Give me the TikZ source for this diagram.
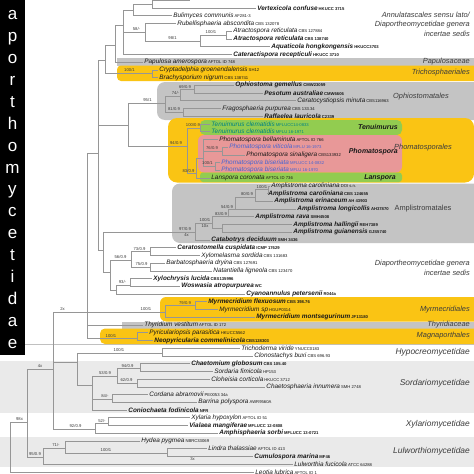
\documentclass[tikz,border=0pt]{standalone}
\usepackage{fontspec}
\setmainfont{Liberation Sans}
\definecolor{lineclr}{RGB}{150,150,150}
\definecolor{boxgrey}{RGB}{196,196,196}
\definecolor{bandgrey}{RGB}{234,234,234}
\definecolor{yel}{RGB}{250,196,20}
\definecolor{grn}{RGB}{146,204,80}
\definecolor{pnk}{RGB}{232,152,152}
\definecolor{tealtx}{RGB}{0,130,130}
\definecolor{blutx}{RGB}{70,100,210}
\definecolor{txt}{RGB}{25,25,25}
\definecolor{labtxt}{RGB}{60,60,60}
\newcommand{\tx}[2]{\textit{#1}\,{\fontsize{4.2}{5}\selectfont #2}}
\newcommand{\txb}[2]{\textbf{\textit{#1}}\,{\fontsize{4.2}{5}\selectfont\bfseries #2}}
\begin{document}
\begin{tikzpicture}[x=1pt,y=-1pt,
  leaf/.style={anchor=west, inner xsep=1.2pt, inner ysep=0pt, font=\fontsize{6.4}{7}\selectfont, text=txt},
  br/.style={draw=lineclr, line width=0.55pt},
  supp/.style={font=\fontsize{4.2}{4.5}\selectfont, text=labtxt, inner sep=0pt},
  olab/.style={font=\fontsize{7.4}{8}\selectfont\itshape, text=labtxt, anchor=east, inner sep=0pt},
  slab/.style={font=\fontsize{8.4}{9}\selectfont\itshape, text=labtxt, anchor=east, inner sep=0pt},
  glab/.style={font=\fontsize{7}{8}\selectfont\bfseries\itshape, text=txt, anchor=east, inner sep=0pt},
  blet/.style={text=white, font=\fontsize{17}{17}\selectfont, anchor=base, inner sep=0pt}]
\useasboundingbox (0,0) rectangle (474,474);
\clip (0,0) rectangle (474,474);
\fill[white] (0,0) rectangle (474,474);
% subclass bands
\fill[bandgrey] (0,361) rectangle (474,413);
\fill[bandgrey] (0,437) rectangle (474,467);
\draw[lineclr!60, line width=0.3pt] (25,344.3) -- (474,344.3);
% black bar
\fill[black] (0,0) rectangle (25,355);
\foreach \l [count=\k from 0] in {a,p,o,r,t,h,o,m,y,c,e,t,i,d,a,e}
  \node[blet] (bl\k) at (12.5,{19.5+21.93*\k}) {\l};
% clade boxes
\fill[boxgrey] (117,57.5) rectangle (474,65.5);
\fill[yel, rounded corners=4pt] (117,65.5) rectangle (480,81);
\fill[boxgrey, rounded corners=8pt] (157,82) rectangle (482,120);
\fill[yel, rounded corners=9pt] (168,118) rectangle (474,182.5);
\fill[grn, rounded corners=5pt] (200,120) rectangle (402,135);
\fill[pnk, rounded corners=6pt] (198,135) rectangle (402,172.5);
\fill[grn, rounded corners=3pt] (200,172.5) rectangle (402,182);
\fill[boxgrey, rounded corners=8pt] (172,183.5) rectangle (482,243);
\fill[yel, rounded corners=6pt] (160,297) rectangle (482,321.5);
\fill[boxgrey] (122,321.5) rectangle (474,328.5);
\fill[yel, rounded corners=5pt] (100,328.5) rectangle (482,344);
% right labels
\node[olab] (l1) at (470,15) {Annulatascales sensu lato/};
\node[olab] (l2) at (470,24.5) {Diaportheomycetidae genera};
\node[olab] (l3) at (470,34) {incertae sedis};
\node[olab] (l4) at (470,61.5) {Papulosaceae};
\node[olab] (l5) at (470,73) {Trichosphaeriales};
\node[olab, anchor=center] (l6) at (421,97) {Ophiostomatales};
\node[glab] (l7) at (398,126.5) {Tenuimurus};
\node[glab] (l8) at (398,152) {Phomatospora};
\node[glab] (l9) at (396,177.5) {Lanspora};
\node[olab, anchor=center] (l10) at (423,148) {Phomatosporales};
\node[olab, anchor=center, font=\fontsize{7.4}{8}\selectfont] (l11) at (423,209) {Amplistromatales};
\node[olab] (l12) at (470,264) {Diaportheomycetidae genera};
\node[olab] (l13) at (470,272.5) {incertae sedis};
\node[olab] (l14) at (470,310) {Myrmecridiales};
\node[olab] (l15) at (470,325) {Thyridiaceae};
\node[olab] (l16) at (470,336) {Magnaporthales};
\node[slab] (l17) at (470,352) {Hypocreomycetidae};
\node[slab] (l18) at (470,383) {Sordariomycetidae};
\node[slab] (l19) at (470,424) {Xylariomycetidae};
\node[slab] (l20) at (470,451) {Lulworthiomycetidae};
% leaves
\coordinate (r0) at (190,0.27);
\node[leaf] (r1) at (256,8.0) {\txb{Vertexicola confuse}{HKUCC 3715}};
\node[leaf] (r2) at (172,15.73) {\tx{Bulimyces communis}{AF281-3}};
\node[leaf] (r3) at (176,23.46) {\tx{Rubellisphaeria abscondita}{CBS 132078}};
\node[leaf] (r4) at (232,31.19) {\tx{Atractospora reticulata}{CBS 127884}};
\node[leaf] (r5) at (232,38.92) {\txb{Atractospora reticulata}{CBS 138740}};
\node[leaf] (r6) at (270,46.65) {\txb{Aquaticola hongkongensis}{HKUCC3703}};
\node[leaf] (r7) at (232,54.38) {\txb{Cateractispora recepticuli}{HKUCC 3710}};
\node[leaf] (r8) at (143,62.11) {\tx{Papulosa amerospora}{AFTOL ID 748}};
\node[leaf] (r9) at (158,69.84) {\tx{Cryptadelphia groenendalensis}{SH12}};
\node[leaf] (r10) at (158,77.57) {\tx{Brachysporium nigrum}{CBS 138741}};
\node[leaf] (r11) at (234,85.30) {\txb{Ophiostoma gemellus}{CMW23059}};
\node[leaf] (r12) at (263,93.03) {\txb{Pesotum australiae}{CMW6606}};
\node[leaf] (r13) at (296,100.76) {\tx{Ceratocystiopsis minuta}{CBS116963}};
\node[leaf] (r14) at (221,108.49) {\tx{Fragosphaeria purpurea}{CBS 133.34}};
\node[leaf] (r15) at (263,116.22) {\txb{Raffaelea lauricola}{C2339}};
\node[leaf, text=tealtx] (r16) at (210,123.95) {\tx{Tenuimurus clematidis}{MFLUCC14-0833}};
\node[leaf, text=tealtx] (r17) at (210,131.68) {\tx{Tenuimurus clematidis}{MFLU 16-1971}};
\node[leaf] (r18) at (218,139.41) {\tx{Phomatospora bellaminuta}{AFTOL ID 766}};
\node[leaf, text=blutx] (r19) at (228,147.14) {\tx{Phomatospora viticola}{MFLU 16-1973}};
\node[leaf] (r20) at (245,154.87) {\tx{Phomatospora sinaligera}{CBS133932}};
\node[leaf, text=blutx] (r21) at (220,162.60) {\tx{Phomatospora biseriata}{MFLUCC 14-0832}};
\node[leaf, text=blutx] (r22) at (220,170.33) {\tx{Phomatospora biseriata}{MFLU 16-1970}};
\node[leaf] (r23) at (210,178.06) {\tx{Lanspora coronata}{AFTOL ID 736}};
\node[leaf] (r24) at (270,185.79) {\tx{Amplistroma caroliniana}{DOI s.n.}};
\node[leaf] (r25) at (267,193.52) {\txb{Amplistroma caroliniana}{CBS 124655}};
\node[leaf] (r26) at (273,201.25) {\txb{Amplistroma erinaceum}{AH 43903}};
\node[leaf] (r27) at (296,208.98) {\txb{Amplistroma longicollis}{AH37870}};
\node[leaf] (r28) at (254,216.71) {\txb{Amplistroma rava}{SMH4508}};
\node[leaf] (r29) at (292,224.44) {\txb{Amplistroma hallingii}{REH7389}};
\node[leaf] (r30) at (292,232.17) {\txb{Amplistroma guianensis}{GJS5740}};
\node[leaf] (r31) at (210,239.90) {\txb{Catabotrys deciduum}{SMH 3436}};
\node[leaf] (r32) at (176,247.63) {\txb{Ceratostomella cuspidata}{ICMP 17629}};
\node[leaf] (r33) at (200,255.36) {\tx{Xylomelasma sordida}{CBS 131683}};
\node[leaf] (r34) at (165,263.09) {\tx{Barbatosphaeria dryina}{CBS 127691}};
\node[leaf] (r35) at (212,270.82) {\tx{Natantiella ligneola}{CBS 123470}};
\node[leaf] (r36) at (152,278.55) {\txb{Xylochrysis lucida}{CBS135996}};
\node[leaf] (r37) at (180,286.28) {\txb{Woswasia atropurpurea}{WC}};
\node[leaf] (r38) at (245,294.01) {\txb{Cyanoannulus petersenii}{R044a}};
\node[leaf] (r39) at (207,301.74) {\txb{Myrmecridium flexuosum}{CBS 398.76}};
\node[leaf] (r40) at (218,309.47) {\tx{Myrmecridium sp}{HGUP0314}};
\node[leaf] (r41) at (255,317.20) {\txb{Myrmecridium montsegurinum}{JF13180}};
\node[leaf] (r42) at (143,324.93) {\tx{Thyridium vestitum}{AFTOL ID 172}};
\node[leaf] (r43) at (148,332.66) {\tx{Pyriculariopsis parasitica}{HKUCC5562}};
\node[leaf] (r44) at (153,340.39) {\txb{Neopyricularia commelinicola}{CBS128303}};
\node[leaf] (r45) at (240,348.12) {\tx{Trichoderma viride}{YNUCC0183}};
\node[leaf] (r46) at (253,355.85) {\tx{Clonostachys buxi}{CBS 696.93}};
\node[leaf] (r47) at (190,363.58) {\txb{Chaetomium globosum}{CBS 105.40}};
\node[leaf] (r48) at (213,371.31) {\tx{Sordaria fimicola}{HP153}};
\node[leaf] (r49) at (210,379.04) {\tx{Cloheisia corticola}{HKUCC 3712}};
\node[leaf] (r50) at (265,386.77) {\tx{Chaetosphaeria innumera}{SMH 2748}};
\node[leaf] (r51) at (148,394.50) {\tx{Cordana abramovii}{PE0053 34a}};
\node[leaf] (r52) at (197,402.23) {\tx{Barrina polyspora}{AWR9560A}};
\node[leaf] (r53) at (127,409.96) {\txb{Coniochaeta fodinicola}{NFR}};
\node[leaf] (r54) at (190,417.69) {\tx{Xylaria hypoxylon}{AFTOL ID 51}};
\node[leaf] (r55) at (188,425.42) {\txb{Vialaea mangiferae}{MFLUCC 12-0808}};
\node[leaf] (r56) at (218,433.15) {\txb{Amphisphaeria sorbi}{MFLUCC 13-0721}};
\node[leaf] (r57) at (140,440.88) {\tx{Hydea pygmea}{NBRC33069}};
\node[leaf] (r58) at (207,448.61) {\tx{Lindra thalassiae}{AFTOL ID 413}};
\node[leaf] (r59) at (253,456.34) {\txb{Cumulospora marina}{MF46}};
\node[leaf] (r60) at (293,464.07) {\tx{Lulworthia fucicola}{ATCC 64288}};
\node[leaf] (r61) at (254,471.80) {\tx{Leotia lubrica}{AFTOL ID 1}};
% internal nodes
\coordinate (nc0) at (152,4.1);
\coordinate (nb) at (133,10);
\coordinate (n100a) at (226,35.05);
\coordinate (n98) at (200,41);
\coordinate (n58) at (145,32);
\coordinate (na) at (123,25);
\coordinate (ntop) at (115,45);
\coordinate (ntri) at (152,73.7);
\coordinate (n105) at (105,60);
\coordinate (n69) at (194,89.2);
\coordinate (n74) at (180,96.5);
\coordinate (n81) at (183,112.4);
\coordinate (noph) at (165,103);
\coordinate (nten) at (200,127.8);
\coordinate (n76) at (222,151);
\coordinate (n100p) at (215,166.5);
\coordinate (npho) at (203,158);
\coordinate (n83) at (196,173.5);
\coordinate (n94) at (187,146);
\coordinate (n128) at (128,125);
\coordinate (na100) at (268,189.7);
\coordinate (na80) at (255,197);
\coordinate (na54) at (235,209.5);
\coordinate (na83) at (228,216.5);
\coordinate (nhg) at (222,228.3);
\coordinate (na100b) at (212,223);
\coordinate (na97) at (195,232);
\coordinate (n73) at (150,251.5);
\coordinate (n75) at (150,267);
\coordinate (n56) at (131,260);
\coordinate (n93) at (130,285);
\coordinate (n118) at (116,290);
\coordinate (n110) at (110,272);
\coordinate (n103) at (103,250);
\coordinate (n98r) at (98,153);
\coordinate (n79) at (195,305.6);
\coordinate (nmyr) at (165,312);
\coordinate (nmag) at (137,338.5);
\coordinate (n87) at (87,312);
\coordinate (nhyp) at (162,353);
\coordinate (n94s) at (140,368.5);
\coordinate (n62) at (137,382.9);
\coordinate (n53s) at (117,376);
\coordinate (n84) at (112,399);
\coordinate (nS) at (92,385);
\coordinate (n77) at (77,362);
\coordinate (n52) at (108,423.5);
\coordinate (nX) at (95,429);
\coordinate (n53) at (53,369);
\coordinate (n100L) at (167,453);
\coordinate (n71) at (65,448);
\coordinate (nlul) at (43,457);
\coordinate (n27) at (27,422);
\coordinate (nroot) at (10,447);
% branches
\draw[br] (nc0) |- (r0); \draw[br] (nc0) |- (r1.west);
\draw[br] (nb) |- (nc0); \draw[br] (nb) |- (r2.west);
\draw[br] (n100a) |- (r4.west); \draw[br] (n100a) |- (r5.west);
\draw[br] (n98) |- (n100a); \draw[br] (n98) |- (r6.west);
\draw[br] (n58) |- (r3.west); \draw[br] (n58) |- (n98);
\draw[br] (na) |- (nb); \draw[br] (na) |- (n58); \draw[br] (na) |- (r7.west);
\draw[br] (ntop) |- (na); \draw[br] (ntop) |- (r8.west);
\draw[br] (ntri) |- (r9.west); \draw[br] (ntri) |- (r10.west);
\draw[br] (n105) |- (ntop); \draw[br] (n105) |- (ntri);
\draw[br] (n69) |- (r11.west); \draw[br] (n69) |- (r12.west);
\draw[br] (n74) |- (n69); \draw[br] (n74) |- (r13.west);
\draw[br] (n81) |- (r14.west); \draw[br] (n81) |- (r15.west);
\draw[br] (noph) |- (n74); \draw[br] (noph) |- (n81);
\draw[br] (nten) |- (r16.west); \draw[br] (nten) |- (r17.west);
\draw[br] (n76) |- (r19.west); \draw[br] (n76) |- (r20.west);
\draw[br] (n100p) |- (r21.west); \draw[br] (n100p) |- (r22.west);
\draw[br] (npho) |- (r18.west); \draw[br] (npho) |- (n76); \draw[br] (npho) |- (n100p);
\draw[br] (n83) |- (npho); \draw[br] (n83) |- (r23.west);
\draw[br] (n94) |- (nten); \draw[br] (n94) |- (n83);
\draw[br] (n128) |- (noph); \draw[br] (n128) |- (n94);
\draw[br] (na100) |- (r24.west); \draw[br] (na100) |- (r25.west);
\draw[br] (na80) |- (na100); \draw[br] (na80) |- (r26.west);
\draw[br] (na54) |- (na80); \draw[br] (na54) |- (r27.west);
\draw[br] (na83) |- (na54); \draw[br] (na83) |- (r28.west);
\draw[br] (nhg) |- (r29.west); \draw[br] (nhg) |- (r30.west);
\draw[br] (na100b) |- (na83); \draw[br] (na100b) |- (nhg);
\draw[br] (na97) |- (na100b); \draw[br] (na97) |- (r31.west);
\draw[br] (n73) |- (r32.west); \draw[br] (n73) |- (r33.west);
\draw[br] (n75) |- (r34.west); \draw[br] (n75) |- (r35.west);
\draw[br] (n56) |- (n73); \draw[br] (n56) |- (n75);
\draw[br] (n93) |- (r36.west); \draw[br] (n93) |- (r37.west);
\draw[br] (n118) |- (n93); \draw[br] (n118) |- (r38.west);
\draw[br] (n110) |- (n56); \draw[br] (n110) |- (n118);
\draw[br] (n103) |- (na97); \draw[br] (n103) |- (n110);
\draw[br] (n98r) |- (n105); \draw[br] (n98r) |- (n128); \draw[br] (n98r) |- (n103);
\draw[br] (n79) |- (r39.west); \draw[br] (n79) |- (r40.west);
\draw[br] (nmyr) |- (n79); \draw[br] (nmyr) |- (r41.west);
\draw[br] (nmag) |- (r43.west); \draw[br] (nmag) |- (r44.west);
\draw[br] (n87) |- (n98r); \draw[br] (n87) |- (nmyr); \draw[br] (n87) |- (r42.west); \draw[br] (n87) |- (nmag);
\draw[br] (nhyp) |- (r45.west); \draw[br] (nhyp) |- (r46.west);
\draw[br] (n94s) |- (r47.west); \draw[br] (n94s) |- (r48.west);
\draw[br] (n62) |- (r49.west); \draw[br] (n62) |- (r50.west);
\draw[br] (n53s) |- (n94s); \draw[br] (n53s) |- (n62);
\draw[br] (n84) |- (r51.west); \draw[br] (n84) |- (r52.west);
\draw[br] (nS) |- (n53s); \draw[br] (nS) |- (n84); \draw[br] (nS) |- (r53.west);
\draw[br] (n77) |- (nhyp); \draw[br] (n77) |- (nS);
\draw[br] (n52) |- (r54.west); \draw[br] (n52) |- (r55.west);
\draw[br] (nX) |- (n52); \draw[br] (nX) |- (r56.west);
\draw[br] (n53) |- (n87); \draw[br] (n53) |- (n77); \draw[br] (n53) |- (nX);
\draw[br] (n100L) |- (r58.west); \draw[br] (n100L) |- (r59.west);
\draw[br] (n71) |- (r57.west); \draw[br] (n71) |- (n100L);
\draw[br] (nlul) |- (n71); \draw[br] (nlul) |- (r60.west);
\draw[br] (n27) |- (n53); \draw[br] (n27) |- (nlul);
\draw[br] (nroot) |- (n27); \draw[br] (nroot) |- (r61.west);
% support values
\node[supp] (s1) at (136.5,29) {58/-};
\node[supp] (s2) at (172.5,38) {98/1};
\node[supp] (s3) at (211,32) {100/1};
\node[supp] (s4) at (129.5,70) {100/1};
\node[supp] (s5) at (185,86.5) {69/0.9};
\node[supp] (s6) at (175.5,93) {74/-};
\node[supp] (s7) at (147.5,100) {95/1};
\node[supp] (s8) at (174,108.5) {81/0.9};
\node[supp] (s9) at (193,125) {100/0.9};
\node[supp] (s10) at (176,143) {94/0.9};
\node[supp] (s11) at (212,148) {76/0.9};
\node[supp] (s12) at (207.5,163) {100/1};
\node[supp] (s13) at (188.5,170.5) {83/0.9};
\node[supp] (s14) at (262,187) {100/1};
\node[supp] (s15) at (247,194) {80/0.9};
\node[supp] (s16) at (227,206.5) {54/0.9};
\node[supp] (s17) at (221,213.5) {83/0.9};
\node[supp] (s18) at (205,220) {100/1};
\node[supp] (s19) at (205,226) {10x};
\node[supp] (s20) at (185,229) {97/0.9};
\node[supp] (s21) at (186.5,235) {4x};
\node[supp] (s22) at (139.5,248.5) {73/0.9};
\node[supp] (s23) at (120.5,257) {56/0.9};
\node[supp] (s24) at (141.5,264) {75/0.9};
\node[supp] (s25) at (122.5,282) {93/-};
\node[supp] (s26) at (62.5,309) {2x};
\node[supp] (s27) at (146,309) {100/1};
\node[supp] (s28) at (185,302.5) {79/0.9};
\node[supp] (s29) at (111,335.5) {100/1};
\node[supp] (s30) at (119,350) {100/1};
\node[supp] (s31) at (40,366) {4x};
\node[supp] (s32) at (127.5,365.5) {94/0.9};
\node[supp] (s33) at (105,373) {53/0.9};
\node[supp] (s34) at (126.5,380) {62/0.9};
\node[supp] (s35) at (105,396) {84/-};
\node[supp] (s36) at (19.5,419) {98x};
\node[supp] (s37) at (102,420.5) {52/-};
\node[supp] (s38) at (75.5,426) {92/0.9};
\node[supp] (s39) at (56,445) {71/-};
\node[supp] (s40) at (106,450) {100/1};
\node[supp] (s41) at (35,454) {95/0.9};
\node[supp] (s42) at (192.5,459.5) {3x};
\end{tikzpicture}
\end{document}
